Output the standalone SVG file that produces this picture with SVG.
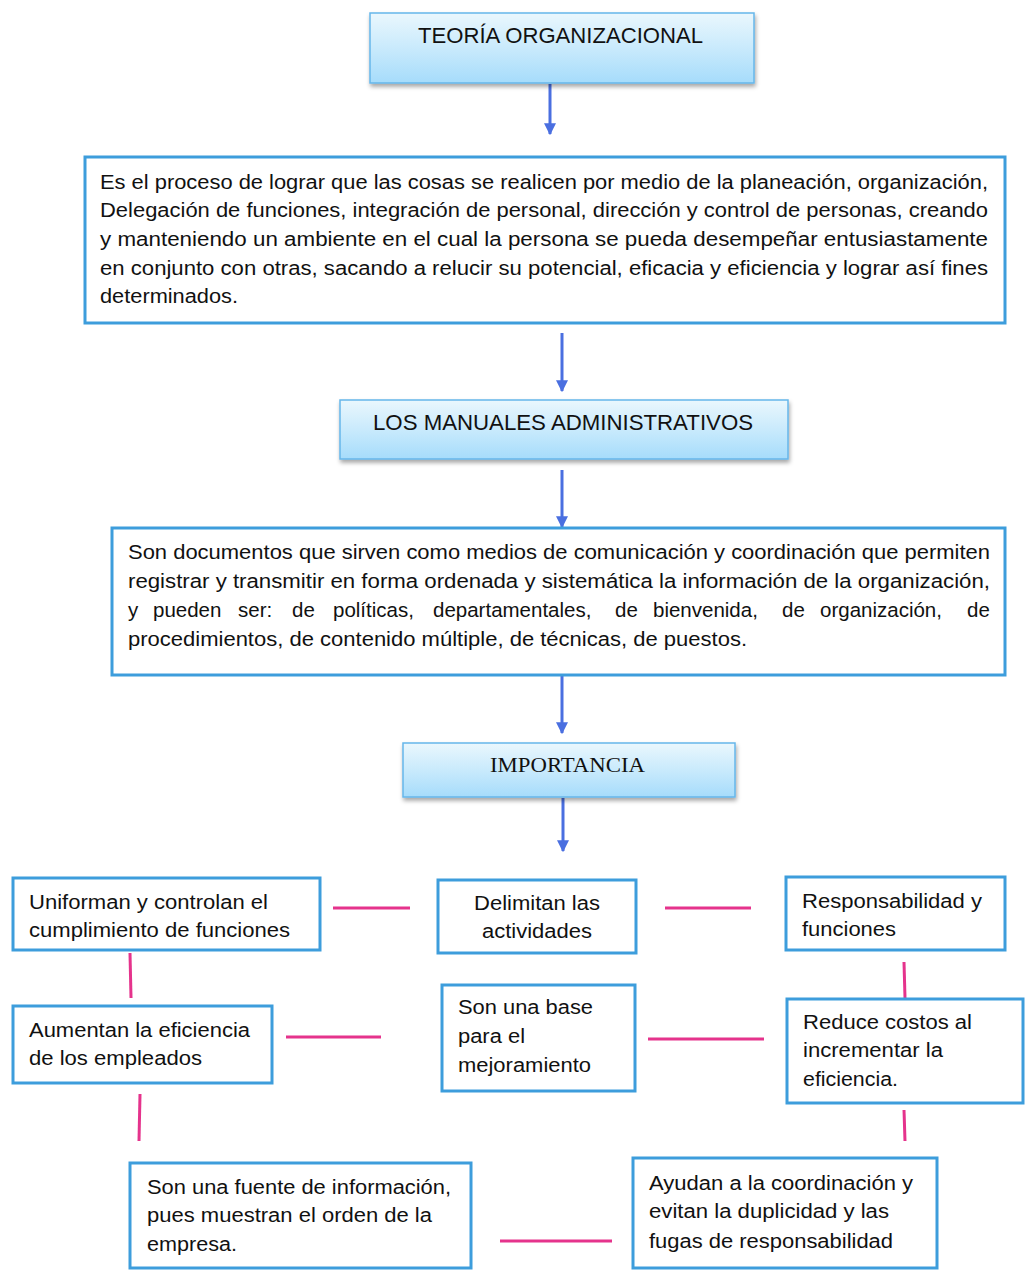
<svg xmlns="http://www.w3.org/2000/svg" width="1030" height="1271" viewBox="0 0 1030 1271">
<defs>
<linearGradient id="hg" x1="0" y1="0" x2="0" y2="1">
<stop offset="0" stop-color="#eaf7fd"/>
<stop offset="0.5" stop-color="#c9eafc"/>
<stop offset="1" stop-color="#a6dcfb"/>
</linearGradient>
<filter id="sh" x="-5%" y="-10%" width="110%" height="130%">
<feDropShadow dx="1" dy="3" stdDeviation="2" flood-color="#000" flood-opacity="0.35"/>
</filter>
<marker id="ah" viewBox="0 0 10 10" refX="9" refY="5" markerWidth="4" markerHeight="4" orient="auto">
<path d="M0,0 L10,5 L0,10 z" fill="#4a6fe0"/>
</marker>
<style>
.hdr{fill:url(#hg);stroke:#66b6ea;stroke-width:1.5;filter:url(#sh)}
.box{fill:#fff;stroke:#3d9ddc;stroke-width:3}
.t{font-family:"Liberation Sans",Arial,sans-serif;font-size:20px;fill:#111}
.tw{font-family:"Liberation Sans",Arial,sans-serif;font-size:20.5px;fill:#111}
.th{font-family:"Liberation Sans",Arial,sans-serif;font-size:22px;fill:#111}
.ts{font-family:"Liberation Serif","Times New Roman",serif;font-size:22px;fill:#111}
.arr{stroke:#4a6fe0;stroke-width:3;fill:none;marker-end:url(#ah)}
.pk{stroke:#e5338c;stroke-width:3;fill:none}
</style>
</defs>

<g id="connectors">
<line class="arr" x1="550" y1="84" x2="550" y2="134"/>
<line class="arr" x1="562" y1="333" x2="562" y2="391"/>
<line class="arr" x1="562" y1="470" x2="562" y2="527"/>
<line class="arr" x1="562" y1="676" x2="562" y2="733"/>
<line class="arr" x1="563" y1="798" x2="563" y2="851"/>
<line class="pk" x1="333" y1="908" x2="410" y2="908"/>
<line class="pk" x1="665" y1="908" x2="751" y2="908"/>
<line class="pk" x1="130" y1="953" x2="131" y2="998"/>
<line class="pk" x1="286" y1="1037" x2="381" y2="1037"/>
<line class="pk" x1="648" y1="1039" x2="764" y2="1039"/>
<line class="pk" x1="904" y1="962" x2="905" y2="998"/>
<line class="pk" x1="140" y1="1094" x2="139" y2="1141"/>
<line class="pk" x1="904" y1="1110" x2="905" y2="1141"/>
<line class="pk" x1="500" y1="1241" x2="612" y2="1241"/>
</g>

<g id="n1">
<rect class="hdr" x="370" y="13" width="384" height="70"/>
<text class="th" x="418" y="43" textLength="285" lengthAdjust="spacingAndGlyphs">TEORÍA ORGANIZACIONAL</text>
</g>

<g id="n2">
<rect class="box" x="85" y="157" width="920" height="166"/>
<text class="t" x="100" y="189" textLength="888" lengthAdjust="spacingAndGlyphs">Es el proceso de lograr que las cosas se realicen por medio de la planeación, organización,</text>
<text class="t" x="100" y="217" textLength="888" lengthAdjust="spacingAndGlyphs">Delegación de funciones, integración de personal, dirección y control de personas, creando</text>
<text class="t" x="100" y="246" textLength="888" lengthAdjust="spacingAndGlyphs">y manteniendo un ambiente en el cual la persona se pueda desempeñar entusiastamente</text>
<text class="t" x="100" y="275" textLength="888" lengthAdjust="spacingAndGlyphs">en conjunto con otras, sacando a relucir su potencial, eficacia y eficiencia y lograr así fines</text>
<text class="t" x="100" y="303" textLength="138" lengthAdjust="spacingAndGlyphs">determinados.</text>
</g>

<g id="n3">
<rect class="hdr" x="340" y="400" width="448" height="59"/>
<text class="th" x="373" y="430" textLength="380" lengthAdjust="spacingAndGlyphs">LOS MANUALES ADMINISTRATIVOS</text>
</g>

<g id="n4">
<rect class="box" x="112" y="528" width="893" height="147"/>
<text class="t" x="128" y="559" textLength="862" lengthAdjust="spacingAndGlyphs">Son documentos que sirven como medios de comunicación y coordinación que permiten</text>
<text class="t" x="128" y="588" textLength="862" lengthAdjust="spacingAndGlyphs">registrar y transmitir en forma ordenada y sistemática la información de la organización,</text>
<text class="tw" y="617"><tspan x="128">y</tspan> <tspan x="153">pueden</tspan> <tspan x="238">ser:</tspan> <tspan x="292">de</tspan> <tspan x="333">políticas,</tspan> <tspan x="433">departamentales,</tspan> <tspan x="615">de</tspan> <tspan x="653">bienvenida,</tspan> <tspan x="782">de</tspan> <tspan x="820">organización,</tspan> <tspan x="967">de</tspan></text>
<text class="t" x="128" y="646" textLength="619" lengthAdjust="spacingAndGlyphs">procedimientos, de contenido múltiple, de técnicas, de puestos.</text>
</g>

<g id="n5">
<rect class="hdr" x="403" y="743" width="332" height="54"/>
<text class="ts" x="490" y="772" textLength="155" lengthAdjust="spacingAndGlyphs">IMPORTANCIA</text>
</g>

<g id="nA">
<rect class="box" x="13" y="878" width="307" height="72"/>
<text class="t" x="29" y="909" textLength="239" lengthAdjust="spacingAndGlyphs">Uniforman y controlan el</text>
<text class="t" x="29" y="937" textLength="261" lengthAdjust="spacingAndGlyphs">cumplimiento de funciones</text>
</g>

<g id="nB">
<rect class="box" x="438" y="880" width="198" height="73"/>
<text class="t" x="474" y="910" textLength="126" lengthAdjust="spacingAndGlyphs">Delimitan las</text>
<text class="t" x="482" y="938" textLength="110" lengthAdjust="spacingAndGlyphs">actividades</text>
</g>

<g id="nC">
<rect class="box" x="786" y="877" width="219" height="73"/>
<text class="t" x="802" y="908" textLength="180" lengthAdjust="spacingAndGlyphs">Responsabilidad y</text>
<text class="t" x="802" y="936" textLength="94" lengthAdjust="spacingAndGlyphs">funciones</text>
</g>

<g id="nD">
<rect class="box" x="13" y="1006" width="259" height="77"/>
<text class="t" x="29" y="1037" textLength="221" lengthAdjust="spacingAndGlyphs">Aumentan la eficiencia</text>
<text class="t" x="29" y="1065" textLength="173" lengthAdjust="spacingAndGlyphs">de los empleados</text>
</g>

<g id="nE">
<rect class="box" x="442" y="985" width="193" height="106"/>
<text class="t" x="458" y="1014" textLength="135" lengthAdjust="spacingAndGlyphs">Son una base</text>
<text class="t" x="458" y="1043" textLength="67" lengthAdjust="spacingAndGlyphs">para el</text>
<text class="t" x="458" y="1072" textLength="133" lengthAdjust="spacingAndGlyphs">mejoramiento</text>
</g>

<g id="nF">
<rect class="box" x="787" y="999" width="236" height="104"/>
<text class="t" x="803" y="1029" textLength="169" lengthAdjust="spacingAndGlyphs">Reduce costos al</text>
<text class="t" x="803" y="1057" textLength="140" lengthAdjust="spacingAndGlyphs">incrementar la</text>
<text class="t" x="803" y="1086" textLength="95" lengthAdjust="spacingAndGlyphs">eficiencia.</text>
</g>

<g id="nG">
<rect class="box" x="130" y="1163" width="341" height="105"/>
<text class="t" x="147" y="1194" textLength="304" lengthAdjust="spacingAndGlyphs">Son una fuente de información,</text>
<text class="t" x="147" y="1222" textLength="285" lengthAdjust="spacingAndGlyphs">pues muestran el orden de la</text>
<text class="t" x="147" y="1251" textLength="90" lengthAdjust="spacingAndGlyphs">empresa.</text>
</g>

<g id="nH">
<rect class="box" x="633" y="1158" width="304" height="110"/>
<text class="t" x="649" y="1190" textLength="264" lengthAdjust="spacingAndGlyphs">Ayudan a la coordinación y</text>
<text class="t" x="649" y="1218" textLength="240" lengthAdjust="spacingAndGlyphs">evitan la duplicidad y las</text>
<text class="t" x="649" y="1248" textLength="244" lengthAdjust="spacingAndGlyphs">fugas de responsabilidad</text>
</g>
</svg>
